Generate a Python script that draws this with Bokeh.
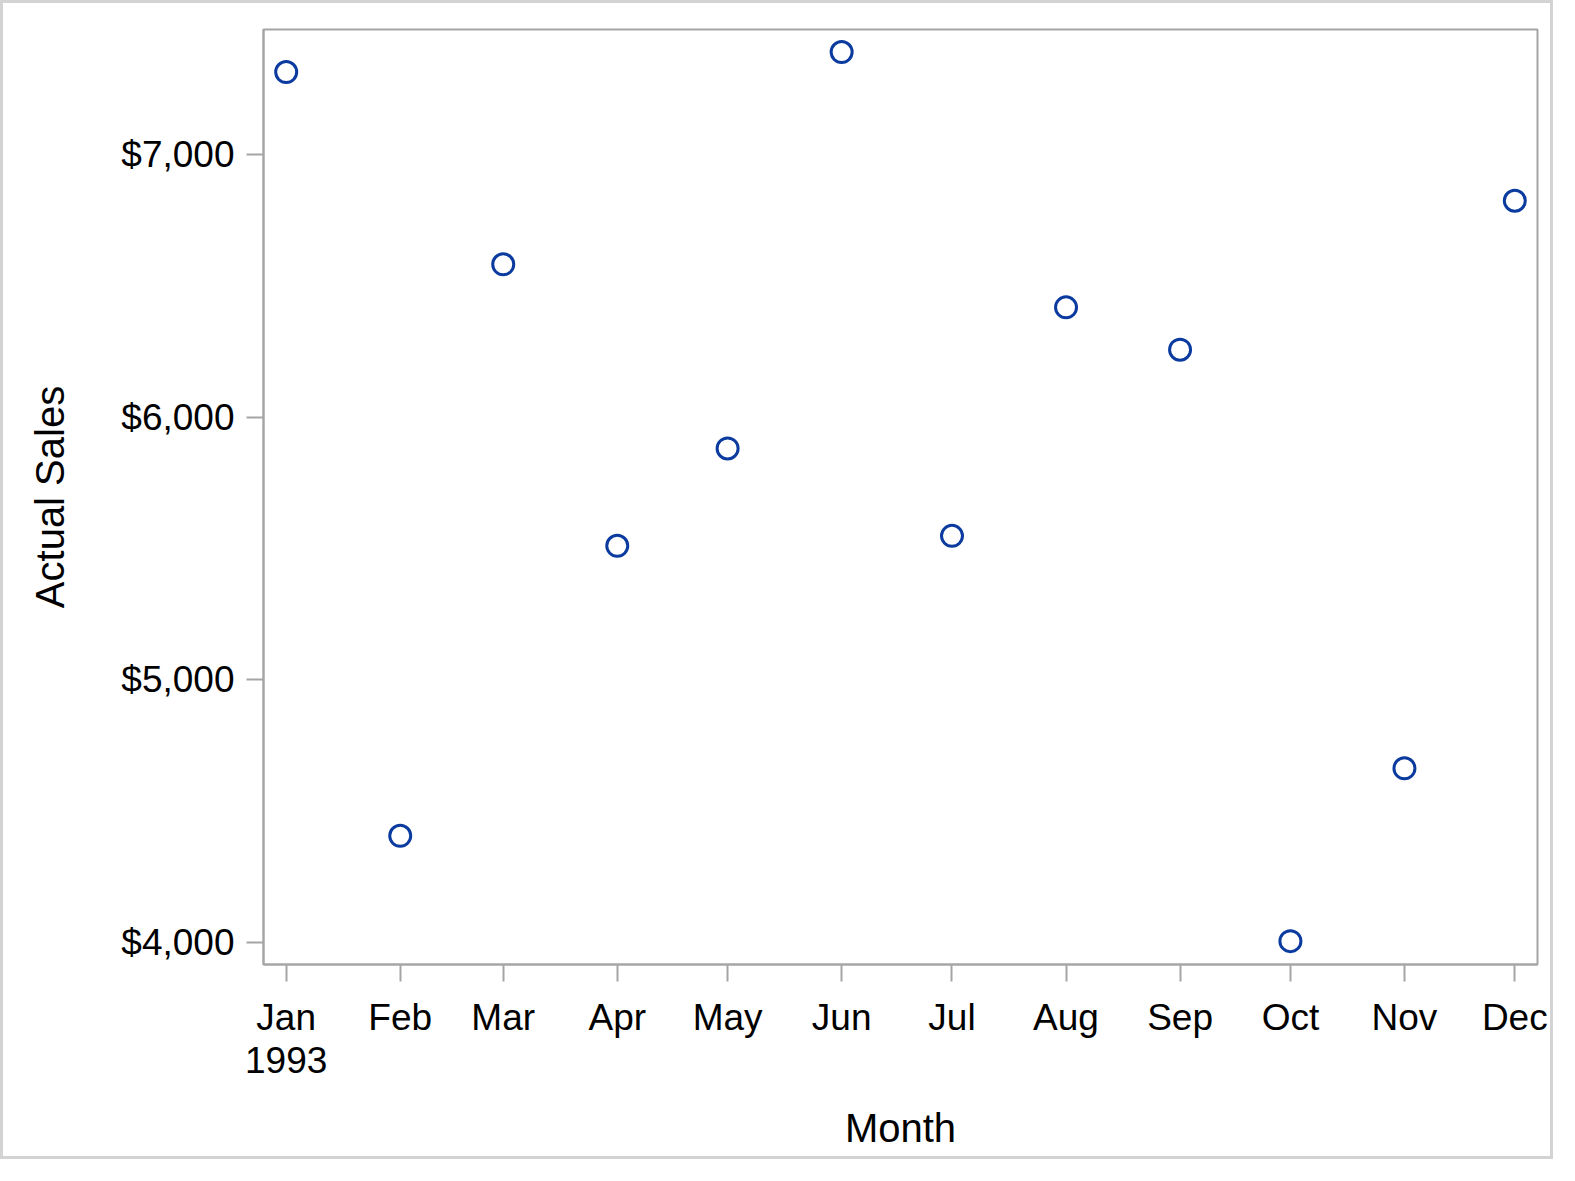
from datetime import datetime, timedelta

from bokeh.plotting import figure
from bokeh.models import Range1d, FixedTicker, NumeralTickFormatter
from bokeh.embed import file_html
from bokeh.resources import INLINE

# data
months = ["Jan", "Feb", "Mar", "Apr", "May", "Jun",
          "Jul", "Aug", "Sep", "Oct", "Nov", "Dec"]
dates = [datetime(1993, m, 1) for m in range(1, 13)]
sales = [7314, 4406, 6582, 5510, 5881, 7390, 5548, 6418, 6257, 4005, 4663, 6824]
y_ticks = [4000, 5000, 6000, 7000]

FONT = "Liberation Sans"
GRAY = "#a5a5a5"
BLUE = "#0b3b9f"


def to_ms(d):
    return (d - datetime(1970, 1, 1)).total_seconds() * 1000.0


pad = timedelta(days=6.17)
p = figure(width=1553, height=1159,
           x_axis_type="datetime",
           x_range=Range1d(dates[0] - pad, dates[-1] + pad),
           y_range=Range1d(3916, 7476),
           output_backend="svg", toolbar_location=None,
           min_border_left=260, min_border_right=19,
           min_border_top=26, min_border_bottom=198)
p.styles = {"border": "3px solid #d3d3d3"}

p.scatter(dates, sales, marker="circle", size=21,
          fill_color="white", line_color=BLUE, line_width=3)

# frame
p.outline_line_color = GRAY
p.outline_line_width = 2
p.grid.visible = False

# axes
tick_ms = [to_ms(d) for d in dates]
labels = {t: m for t, m in zip(tick_ms, months)}
labels[tick_ms[0]] = months[0] + "\n1993"
p.xaxis.ticker = FixedTicker(ticks=tick_ms)
p.xaxis.major_label_overrides = labels
p.xaxis.axis_label = "Month"

p.yaxis.ticker = FixedTicker(ticks=y_ticks)
p.yaxis.formatter = NumeralTickFormatter(format="$0,0")
p.yaxis.axis_label = "Actual Sales"

for ax in (p.xaxis[0], p.yaxis[0]):
    ax.axis_line_color = GRAY
    ax.axis_line_width = 2
    ax.major_tick_line_color = GRAY
    ax.major_tick_line_width = 2
    ax.major_tick_out = 17
    ax.major_tick_in = 0
    ax.minor_tick_line_color = None
    ax.major_label_text_font = FONT
    ax.major_label_text_font_size = "37px"
    ax.major_label_text_color = "black"
    ax.major_label_standoff = 12
    ax.axis_label_text_font = FONT
    ax.axis_label_text_font_size = "40px"
    ax.axis_label_text_font_style = "normal"
    ax.axis_label_text_color = "black"

p.xaxis.major_label_standoff = 15
p.xaxis.major_label_text_line_height = 1.05
p.xaxis.axis_label_standoff = 22
p.yaxis.axis_label_standoff = 46

open("out.html", "w").write(file_html(p, INLINE))
